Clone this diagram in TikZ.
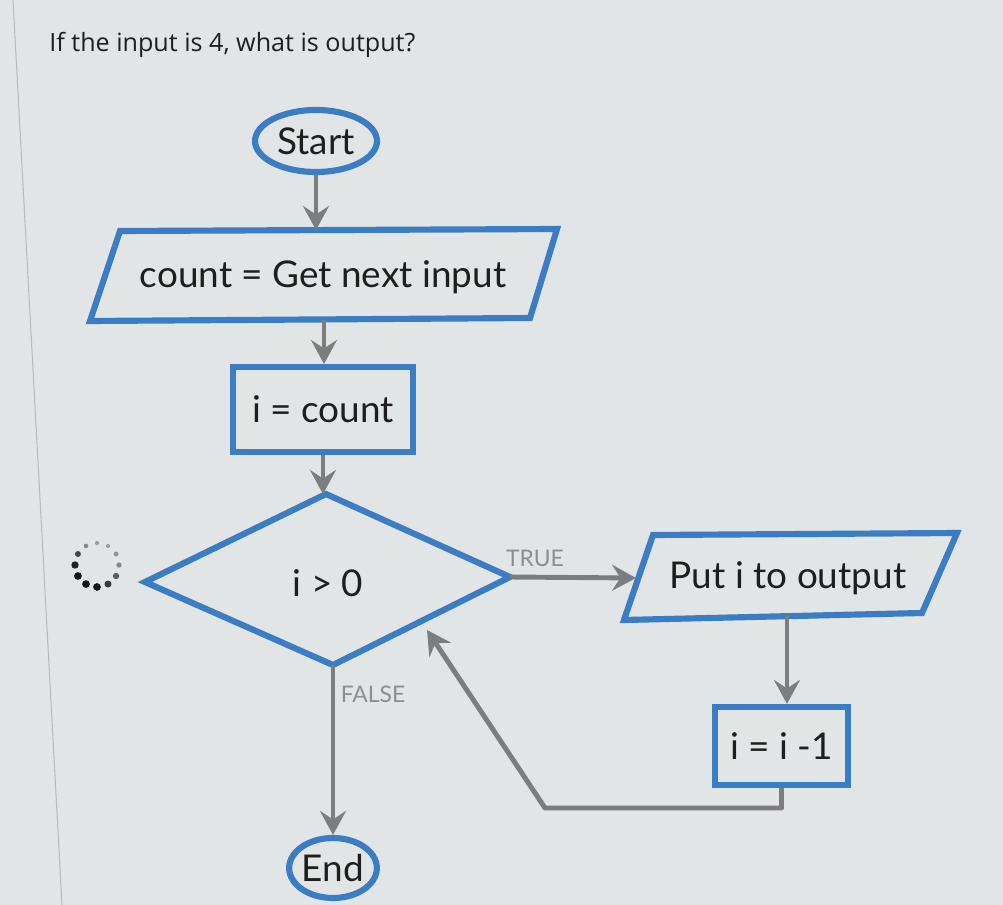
\documentclass[tikz,border=0pt]{standalone}
\usepackage{fontspec}
\setmainfont{Lato}
\newfontfamily\titlefont{Open Sans}
\usetikzlibrary{arrows.meta,shapes.geometric}
\definecolor{bg}{HTML}{E2E5E5}
\definecolor{flowblue}{HTML}{3B7DC4}
\definecolor{flowgrey}{HTML}{7B7D7F}
\definecolor{labelgrey}{HTML}{8C8E90}
\definecolor{txt}{HTML}{1E1E1E}
\definecolor{edge}{HTML}{B8BBBC}
\tikzset{
  outline/.style={draw=flowblue, line width=3.5pt, line join=miter},
  conn/.style={draw=flowgrey, line width=2.8pt, line join=round,
    -{Stealth[length=0.48cm,width=0.52cm,inset=0.17cm]}},
  lbl/.style={font=\fontsize{21}{25}\selectfont, text=txt, inner sep=0pt},
  tag/.style={font=\fontsize{13}{15}\selectfont, text=labelgrey, inner sep=0pt},
  terminal/.style={outline, ellipse, inner sep=0pt, font=\fontsize{21}{25}\selectfont, text=txt},
  process/.style={outline, rectangle, inner sep=0pt, font=\fontsize{21}{25}\selectfont, text=txt},
}
\begin{document}
\begin{tikzpicture}[x=0.02cm,y=-0.02cm]
\fill[bg] (0,0) rectangle (1003,905);
\useasboundingbox (0,0) rectangle (1003,905);
\draw[edge, line width=0.6pt] (13,0) -- (62,905);

% title
\node[anchor=base west, font=\titlefont\fontsize{14.3}{17}\selectfont, text=txt, inner sep=0pt] (title) at (49,52) {If the input is 4, what is output?};

% spinner (angles measured with y pointing down)
\foreach \a/\r/\o in {0/1.5/0.4,30/1.8/0.6,60/2.0/0.75,90/2.2/0.9,120/2.2/0.9,150/2.2/0.9,180/2.1/0.85,210/1.7/0.7,240/1.3/0.4,270/1.2/0.3,300/1.2/0.3,330/1.4/0.35}
  \fill[black, opacity=\o] (97,565) ++(\a:22) circle (\r pt);

% Start
\node[terminal, minimum width=2.44cm, minimum height=1.24cm] (start) at (316,141) {Start};

% input parallelogram
\coordinate (inTL) at (120,231);
\coordinate (inTR) at (557,229);
\coordinate (inBR) at (530,318);
\coordinate (inBL) at (90,321);
\draw[outline] (inTL) -- (inTR) -- (inBR) -- (inBL) -- cycle;
\node[lbl] (input) at (323,277) {count = Get next input};
\coordinate (inTop) at (318,230);
\coordinate (inBot) at (324,320);

% i = count
\node[process, minimum width=3.6cm, minimum height=1.7cm] (icount) at (323,409.5) {i = count};

% diamond
\coordinate (dTop) at (326,494);
\coordinate (dLeft) at (145,582);
\coordinate (dBot) at (333,665);
\coordinate (dRight) at (510,577);
\draw[outline] (dTop) -- (dRight) -- (dBot) -- (dLeft) -- cycle;
\node[lbl] (cond) at (328,583) {i > 0};

% output parallelogram
\coordinate (oTL) at (653,535);
\coordinate (oTR) at (957,533);
\coordinate (oBR) at (922,613);
\coordinate (oBL) at (624,620);
\draw[outline] (oTL) -- (oTR) -- (oBR) -- (oBL) -- cycle;
\node[lbl] (out) at (788,578) {Put i to output};
\coordinate (outL) at (636,578);
\coordinate (outB) at (787,616);

% i = i - 1
\node[process, minimum width=2.66cm, minimum height=1.56cm] (dec) at (781.5,746) {i = i -1};

% End
\node[terminal, minimum width=1.72cm, minimum height=1.2cm] (end) at (333,868) {End};

% connectors
\draw[conn] (start.south) -- (start.south |- inTop);
\draw[conn] (inBot) -- (inBot |- icount.north);
\draw[conn] (icount.south) -- (icount.south |- dTop);
\draw[conn] (dRight) -- (outL);
\node[tag] (truelbl) at (535,558) {TRUE};
\draw[conn] (outB) -- (outB |- dec.north);
\coordinate (loopCorner) at (545,808);
\coordinate (loopTip) at (427,630);
\draw[conn] (dec.south) |- (loopCorner) -- (loopTip);
\draw[conn] (dBot) -- (dBot |- end.north);
\node[tag] (falselbl) at (373,694) {FALSE};
\end{tikzpicture}
\end{document}
